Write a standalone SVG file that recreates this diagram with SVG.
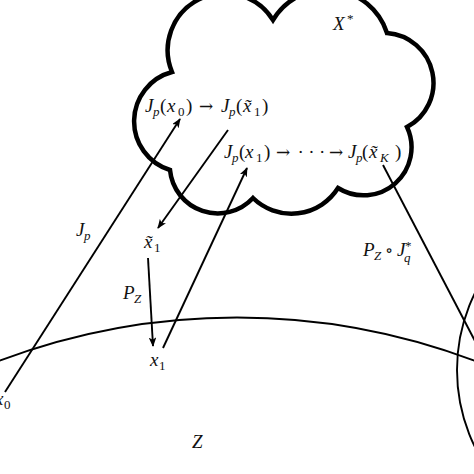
<svg xmlns="http://www.w3.org/2000/svg" width="474" height="474" viewBox="0 0 474 474">
<style>
text{font-family:'Liberation Serif','Times New Roman','DejaVu Serif',serif;font-size:19px;fill:#111}
.i{font-style:italic}
.s{font-size:13px}
.a{font-family:'DejaVu Serif','DejaVu Sans',serif;font-size:17px}
.ln{fill:none;stroke:#000;stroke-width:1.9}
</style>
<defs>
<marker id="ah" viewBox="0 0 10 8" refX="9" refY="4" markerWidth="5" markerHeight="4" orient="auto" markerUnits="strokeWidth">
<path d="M0,0 L10,4 L0,8 L2.5,4 Z" fill="#000"/>
</marker>
</defs>
<rect width="474" height="474" fill="#fff"/>
<g id="space-Z">
<path class="ln" d="M -4 362 A 674 674 0 0 1 478 362"/>
<text x="192" y="448" class="i">Z</text>
</g>
<g id="right-set">
<circle class="ln" cx="631" cy="370" r="174"/>
</g>
<g id="cloud-Xstar">
<path d="M 172 72 A 57 57 0 0 1 273 20 A 63 63 0 0 1 387 33 A 50 50 0 0 1 407 127 A 48 48 0 0 1 338 188 A 55 55 0 0 1 253 198 A 48 48 0 0 1 170 170 A 51 51 0 0 1 172 72 Z" fill="#fff" stroke="#000" stroke-width="4.5" stroke-linejoin="miter"/>
<text y="30"><tspan x="333" class="i">X</tspan><tspan x="347" y="23" class="s">*</tspan></text>
</g>
<g id="node-Jp-x0-Jp-xt1">
<text y="112"><tspan x="145" class="i">J</tspan><tspan x="153" y="116" class="i s">p</tspan><tspan x="160" y="112">(</tspan><tspan x="167" class="i">x</tspan><tspan x="178" y="116" class="s">0</tspan><tspan x="186" y="112">)</tspan><tspan x="199" class="a">→</tspan><tspan x="221" class="i">J</tspan><tspan x="229" y="116" class="i s">p</tspan><tspan x="236" y="112">(</tspan><tspan x="243" class="i">x̃</tspan><tspan x="254" y="116" class="s">1</tspan><tspan x="262" y="112">)</tspan></text>
</g>
<g id="node-Jp-x1-Jp-xtK">
<text y="158"><tspan x="224" class="i">J</tspan><tspan x="232" y="162" class="i s">p</tspan><tspan x="239" y="158">(</tspan><tspan x="245" class="i">x</tspan><tspan x="256" y="162" class="s">1</tspan><tspan x="264" y="158">)</tspan><tspan x="276" class="a">→</tspan><tspan x="298" class="a">· · ·</tspan><tspan x="329" class="a">→</tspan><tspan x="348" class="i">J</tspan><tspan x="356" y="162" class="i s">p</tspan><tspan x="362" y="158">(</tspan><tspan x="369" class="i">x̃</tspan><tspan x="380" y="162" class="i s">K</tspan><tspan x="395" y="158">)</tspan></text>
</g>
<g id="node-xt1"><text y="248"><tspan x="144" class="i">x̃</tspan><tspan x="154" y="252" class="s">1</tspan></text></g>
<g id="node-x1"><text y="366"><tspan x="150" class="i">x</tspan><tspan x="159" y="370" class="s">1</tspan></text></g>
<g id="node-x0"><text y="405"><tspan x="-5" class="i">x</tspan><tspan x="4" y="409" class="s">0</tspan></text></g>
<g id="connectors">
<line class="ln" x1="5" y1="392" x2="180" y2="119" marker-end="url(#ah)"/>
<line class="ln" x1="228" y1="130" x2="158" y2="228" marker-end="url(#ah)"/>
<line class="ln" x1="148" y1="258" x2="153" y2="346" marker-end="url(#ah)"/>
<line class="ln" x1="163" y1="348" x2="247" y2="168" marker-end="url(#ah)"/>
<line class="ln" x1="383" y1="165" x2="476" y2="343"/>
<text y="236"><tspan x="76" class="i">J</tspan><tspan x="84" y="240" class="i s">p</tspan></text>
<text y="299"><tspan x="123" class="i">P</tspan><tspan x="134" y="303" class="i s">Z</tspan></text>
<text y="256"><tspan x="363" class="i">P</tspan><tspan x="374" y="260" class="i s">Z</tspan><tspan x="385" y="256" class="a">∘</tspan><tspan x="397" class="i">J</tspan><tspan x="405" y="250" class="s">*</tspan><tspan x="404" y="262" class="i s">q</tspan></text>
</g>
</svg>
